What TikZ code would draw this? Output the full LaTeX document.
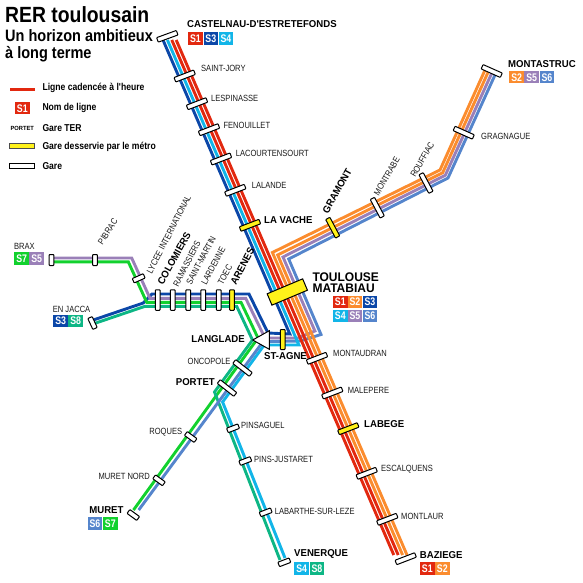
\documentclass[tikz,border=0pt]{standalone}
\usepackage{fontspec}
\setmainfont{Liberation Sans}
\newfontfamily\regf[FakeStretch=0.84]{Liberation Sans}
\newfontfamily\bldf[FakeStretch=0.96]{Liberation Sans}
\newfontfamily\cndf[FakeStretch=0.86]{Liberation Sans}
\newfontfamily\bdgf[FakeStretch=0.80]{Liberation Sans}
\newfontfamily\ttlf[FakeStretch=0.88]{Liberation Sans}
\definecolor{cSa}{HTML}{E2280F}
\definecolor{cSb}{HTML}{FB8C2E}
\definecolor{cSc}{HTML}{0B47A8}
\definecolor{cSd}{HTML}{12B5E8}
\definecolor{cSe}{HTML}{9A80B8}
\definecolor{cSf}{HTML}{5585CC}
\definecolor{cSg}{HTML}{12D12E}
\definecolor{cSh}{HTML}{0DB685}
\definecolor{cYel}{HTML}{FFF21A}
\tikzset{
  stripe/.style={line width=2.9pt,line join=miter,miter limit=4},
  la/.style={stripe,cSa}, lb/.style={stripe,cSb}, lc/.style={stripe,cSc}, ld/.style={stripe,cSd},
  le/.style={stripe,cSe}, lf/.style={stripe,cSf}, lg/.style={stripe,cSg}, lh/.style={stripe,cSh},
  gare/.style={draw=black,fill=white,line width=1pt,rounded corners=0.7pt,inner sep=0pt,minimum width=#1,minimum height=4.8pt},
  gare/.default=20pt,
  metro/.style={gare=#1,fill=cYel},
  metro/.default=20pt,
  badge/.style={fill=#1,inner sep=0pt,minimum width=14.6pt,minimum height=12.4pt,text=white,font=\bdgf\bfseries\fontsize{11}{11}\selectfont},
  lab/.style={inner sep=0pt,text=black!90,font=\regf\fontsize{9}{9}\selectfont},
  blab/.style={inner sep=0pt,text=black,font=\bldf\bfseries\fontsize{10}{10}\selectfont},
  big/.style={inner sep=0pt,text=black,font=\bldf\bfseries\fontsize{12.5}{12.5}\selectfont},
  leg/.style={inner sep=0pt,anchor=west,text=black,font=\cndf\bfseries\fontsize{10}{10}\selectfont},
}
\begin{document}
\begin{tikzpicture}[x=1pt,y=-1pt]
\useasboundingbox (0,0) rectangle (583,583);
% title
\node[anchor=west,inner sep=0pt,font=\ttlf\bfseries\fontsize{22}{22}\selectfont] (ttl) at (5,15) {RER toulousain};
\node[anchor=west,inner sep=0pt,font=\ttlf\bfseries\fontsize{16.5}{16.5}\selectfont] (sub1) at (5,36) {Un horizon ambitieux};
\node[anchor=west,inner sep=0pt,font=\ttlf\bfseries\fontsize{16.5}{16.5}\selectfont] (sub2) at (5,54) {à long terme};
% legend
\draw[la,line width=3pt] (10,89.3) -- (35,89.3);
\node[leg] (lg1) at (42.3,88) {Ligne cadencée à l'heure};
\node[badge=cSa] (lgs) at (22.3,108.3) {S1};
\node[leg] (lg2) at (42.3,107.5) {Nom de ligne};
\node[inner sep=0pt,font=\bldf\bfseries\fontsize{6}{6}\selectfont] (lgp) at (22.3,128) {PORTET};
\node[leg] (lg3) at (42.3,128) {Gare TER};
\node[gare=25pt,fill=cYel,draw=black!70,rounded corners=0pt] (lgy) at (22.3,146.3) {};
\node[leg] (lg4) at (42.3,146.5) {Gare desservie par le métro};
\node[gare=25pt,rounded corners=0pt] (lgw) at (22.3,165.7) {};
\node[leg] (lg5) at (42.3,166) {Gare};
% lines entering St-Agne from the east
\draw[lf] (495,75) -- (448,178) -- (288.7,259) -- (321,334.5) -- (300,341) -- (268,341.5) -- (262,343);
\draw[le] (491.7,73.3) -- (445.3,175.3) -- (283,257) -- (314.9,331) -- (298,338) -- (262,338);
% west branches
\draw[lc] (93.3,320) -- (143.3,303) -- (152,294) -- (249,294) -- (268,333) -- (289.8,334) -- (163,40);
\draw[ld] (167.4,40) -- (298.9,345) -- (270,345) -- (263.5,346) -- (222.6,402) -- (285,558);
\draw[le] (51.7,258) -- (131.7,258) -- (150,298.3) -- (245.7,298.3) -- (264,336);
\draw[lg] (51.7,261.8) -- (128.3,261.8) -- (146.7,302.3) -- (241,302.3) -- (258,338) -- (133.5,510);
\draw[lh] (95,323.3) -- (145,306.3) -- (236.7,306.3) -- (252.5,340) -- (214.5,392) -- (280,560);
\draw[lf] (262,343) -- (138.7,510);
% trunk
\draw[la] (171.8,40) -- (393.8,555);
\draw[la] (176.2,40) -- (398.2,555);
\draw[lb] (485,70) -- (440,170) -- (272.4,252.5) -- (402.6,555);
\draw[lb] (488.3,71.7) -- (442.7,172.7) -- (277.7,255) -- (407,555);
% triangle
\filldraw[fill=white,draw=black,line width=1pt,line join=miter] (252.7,340) -- (269.3,330.7) -- (269.3,349.3) -- cycle;
% stations north
\node[gare=21pt,rotate=20] (cas) at (167.3,36.3) {};
\node[gare=21pt,rotate=21] (jor) at (184.7,76) {};
\node[gare=21pt,rotate=21] (les) at (197,103.7) {};
\node[gare=21pt,rotate=21] (fen) at (209,129.7) {};
\node[gare=21pt,rotate=21] (lac) at (221,159) {};
\node[gare=21pt,rotate=21] (lal) at (235.3,190.3) {};
\node[metro=21pt,rotate=21] (vac) at (250,225.3) {};
\node[draw=black,fill=cYel,line width=1pt,inner sep=0pt,minimum width=38.5pt,minimum height=12.3pt,rotate=22.8] (mat) at (287.3,292) {};
\node[gare=21pt,rotate=21] (mon) at (317,358.3) {};
\node[gare=21pt,rotate=21] (mal) at (332.3,393) {};
\node[metro=21pt,rotate=21] (lbg) at (348.3,428.7) {};
\node[gare=21pt,rotate=21] (esc) at (366.7,473.3) {};
\node[gare=21pt,rotate=21] (mlr) at (387.3,519.3) {};
\node[gare=21pt,rotate=21] (baz) at (405.7,558.7) {};
% stations NE
\node[gare=21pt,rotate=-24] (mts) at (491.7,71) {};
\node[gare=21pt,rotate=-24] (gra) at (463.7,132.7) {};
\node[gare=21pt,rotate=-62] (rou) at (426,183) {};
\node[gare=21pt,rotate=-62] (mtb) at (377.3,207.7) {};
\node[metro=21pt,rotate=-62] (grm) at (332.7,227.7) {};
% stations west
\node[gare=11pt,rotate=90] (bra) at (51.5,260) {};
\node[gare=11pt,rotate=90] (pib) at (95,260) {};
\node[gare=12pt,rotate=24] (lyc) at (138.7,278.3) {};
\node[gare=12pt,rotate=-65] (enj) at (92.5,323) {};
\node[gare=20.5pt,rotate=90] (col) at (157.7,300) {};
\node[gare=20.5pt,rotate=90] (ram) at (172.7,300) {};
\node[gare=20.5pt,rotate=90] (stm) at (188.3,300) {};
\node[gare=20.5pt,rotate=90] (lar) at (203.3,300) {};
\node[gare=20.5pt,rotate=90] (toe) at (218.7,300) {};
\node[metro=20.5pt,rotate=90] (are) at (232,300) {};
\node[metro=20pt,rotate=90] (sta) at (282.7,339.5) {};
% stations SW
\node[gare=21pt,rotate=-38] (onc) at (242.5,368) {};
\node[gare=21pt,rotate=-38] (por) at (227,388) {};
\node[gare=12pt,rotate=-36] (roq) at (190.7,437) {};
\node[gare=12pt,rotate=-36] (mun) at (159,480.3) {};
\node[gare=12pt,rotate=-36] (mur) at (133.3,515) {};
\node[gare=12pt,rotate=21] (pin) at (233,428.3) {};
\node[gare=12pt,rotate=21] (pju) at (245.3,461) {};
\node[gare=12pt,rotate=21] (lab) at (265.7,512.3) {};
\node[gare=12pt,rotate=21] (ven) at (284.3,562.3) {};
% labels
\node[blab,anchor=west] (tcas) at (187,24) {CASTELNAU-D'ESTRETEFONDS};
\node[lab,anchor=west] (tjor) at (201,68.7) {SAINT-JORY};
\node[lab,anchor=west] (tles) at (211,98.7) {LESPINASSE};
\node[lab,anchor=west] (tfen) at (223.3,125) {FENOUILLET};
\node[lab,anchor=west] (tlac) at (235.7,153.3) {LACOURTENSOURT};
\node[lab,anchor=west] (tlal) at (251.7,185.7) {LALANDE};
\node[blab,anchor=west] (tvac) at (264,220.3) {LA VACHE};
\node[big,anchor=west] (tmt) at (312.3,277.3) {TOULOUSE};
\node[big,anchor=west] (tma) at (312.3,288.3) {MATABIAU};
\node[lab,anchor=west] (tmon) at (333,353.3) {MONTAUDRAN};
\node[lab,anchor=west] (tmal) at (347.7,390) {MALEPERE};
\node[blab,anchor=west] (tlbg) at (364,424) {LABEGE};
\node[lab,anchor=west] (tesc) at (381,469.7) {ESCALQUENS};
\node[lab,anchor=west] (tmlr) at (401,516) {MONTLAUR};
\node[blab,anchor=west] (tbaz) at (419.7,555) {BAZIEGE};
\node[blab,anchor=west] (tven) at (294,554.3) {VENERQUE};
\node[lab,anchor=west] (tlab) at (274.7,511.3) {LABARTHE-SUR-LEZE};
\node[lab,anchor=west] (tpju) at (254,459) {PINS-JUSTARET};
\node[lab,anchor=west] (tpin) at (241,425.7) {PINSAGUEL};
\node[lab,anchor=east] (tonc) at (230.7,361.3) {ONCOPOLE};
\node[blab,anchor=east] (tpor) at (215,382.3) {PORTET};
\node[lab,anchor=east] (troq) at (182.3,432.3) {ROQUES};
\node[lab,anchor=east] (tmun) at (150,476.7) {MURET NORD};
\node[blab,anchor=east] (tmur) at (123.7,510) {MURET};
\node[blab,anchor=east] (tlan) at (245,339) {LANGLADE};
\node[blab,anchor=west] (tsta) at (264,356.3) {ST-AGNE};
\node[lab,anchor=west] (tgra) at (481,136.7) {GRAGNAGUE};
\node[blab,anchor=west] (tmts) at (508,64.3) {MONTASTRUC};
\node[lab,anchor=west] (tbra) at (14,246) {BRAX};
\node[lab,anchor=west] (tenj) at (52.7,309) {EN JACCA};
\node[lab,anchor=west,rotate=57] (tpib) at (100,243.5) {PIBRAC};
\node[lab,anchor=west,rotate=62.7] (tlyc) at (149,273) {LYCEE INTERNATIONAL};
\node[blab,anchor=west,rotate=61] (tcol) at (160,284) {COLOMIERS};
\node[lab,anchor=west,rotate=63] (tram) at (175.5,286) {RAMASSIERS};
\node[lab,anchor=west,rotate=62] (tstm) at (188.5,284) {SAINT-MARTIN};
\node[lab,anchor=west,rotate=62] (tlar) at (203.5,284) {LARDENNE};
\node[lab,anchor=west,rotate=62] (ttoe) at (220,284) {TOEC};
\node[blab,anchor=west,rotate=62] (tare) at (233,284) {ARENES};
\node[blab,anchor=west,rotate=61] (tgrm) at (325,213) {GRAMONT};
\node[lab,anchor=west,rotate=60] (tmtb) at (376,195) {MONTRABE};
\node[lab,anchor=west,rotate=60] (trou) at (412.5,176.5) {ROUFFIAC};
% badges
\node[badge=cSa] (b1) at (195.5,38.5) {S1};
\node[badge=cSc] (b2) at (210.8,38.5) {S3};
\node[badge=cSd] (b3) at (226,38.5) {S4};
\node[badge=cSa] (b4) at (340.3,301.7) {S1};
\node[badge=cSb] (b5) at (355,301.7) {S2};
\node[badge=cSc] (b6) at (370,301.7) {S3};
\node[badge=cSd] (b7) at (340.3,315.7) {S4};
\node[badge=cSe] (b8) at (355,315.7) {S5};
\node[badge=cSf] (b9) at (370,315.7) {S6};
\node[badge=cSb] (b10) at (516.7,77.3) {S2};
\node[badge=cSe] (b11) at (531.7,77.3) {S5};
\node[badge=cSf] (b12) at (547,77.3) {S6};
\node[badge=cSa] (b13) at (427.3,568.3) {S1};
\node[badge=cSb] (b14) at (442.3,568.3) {S2};
\node[badge=cSd] (b15) at (301.7,568.3) {S4};
\node[badge=cSh] (b16) at (317,568.3) {S8};
\node[badge=cSf] (b17) at (95,523.3) {S6};
\node[badge=cSg] (b18) at (110.3,523.3) {S7};
\node[badge=cSg] (b19) at (21.7,258.3) {S7};
\node[badge=cSe] (b20) at (36.7,258.3) {S5};
\node[badge=cSc] (b21) at (60.7,320.7) {S3};
\node[badge=cSh] (b22) at (75.7,320.7) {S8};
\end{tikzpicture}
\end{document}
